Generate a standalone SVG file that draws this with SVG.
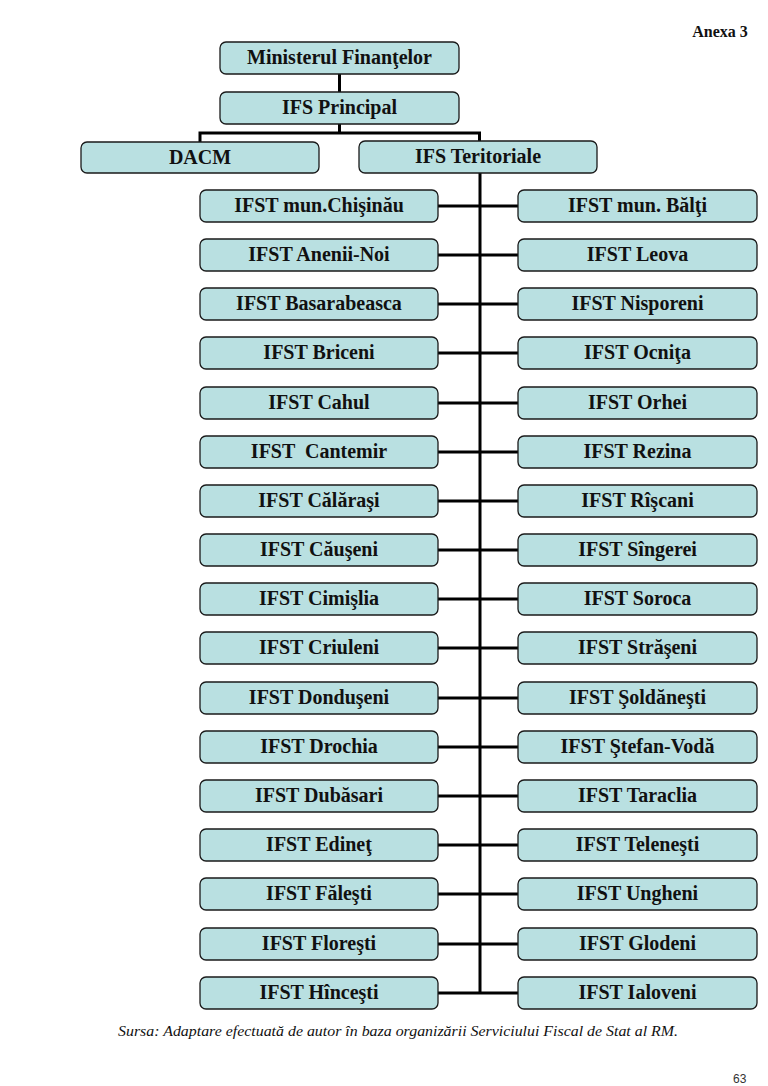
<svg xmlns="http://www.w3.org/2000/svg" width="768" height="1086" viewBox="0 0 768 1086">
<style>
.b{fill:#b9e0e1;stroke:#1a1a1a;stroke-width:1.3}
.t{font-family:"Liberation Serif","Times New Roman",serif;font-weight:bold;font-size:20px;fill:#111;text-anchor:middle;white-space:pre}
.c{stroke:#000;stroke-width:3;fill:none}
</style>
<rect width="768" height="1086" fill="#fff"/>
<text x="720" y="37" class="t" style="font-size:16px">Anexa 3</text>
<g id="connectors">
<path class="c" d="M339.5 74V92M339.5 124V133M200 133H479.5M200 131.5V142M479.5 131.5V141M480 173V993"/>
<path class="c" d="M438 206H518M438 255H518M438 304H518M438 353H518M438 403H518M438 452H518M438 501H518M438 550H518M438 599H518M438 648H518M438 698H518M438 747H518M438 796H518M438 845H518M438 894H518M438 944H518M438 993H518"/>
</g>
<g id="n_min"><rect class="b" x="220" y="42" width="239" height="32" rx="6"/><text class="t" x="339.5" y="64">Ministerul Finanţelor</text></g>
<g id="n_ifsp"><rect class="b" x="220" y="92" width="239" height="32" rx="6"/><text class="t" x="339.5" y="114">IFS Principal</text></g>
<g id="n_dacm"><rect class="b" x="81" y="142" width="238" height="31" rx="6"/><text class="t" x="200" y="164">DACM</text></g>
<g id="n_ifst"><rect class="b" x="359" y="141" width="238" height="32" rx="6"/><text class="t" x="478" y="163">IFS Teritoriale</text></g>
<g id="L1"><rect class="b" x="200" y="190" width="238" height="32" rx="6"/><text class="t" x="319" y="212">IFST mun.Chişinău</text></g>
<g id="L2"><rect class="b" x="200" y="239" width="238" height="32" rx="6"/><text class="t" x="319" y="261">IFST Anenii-Noi</text></g>
<g id="L3"><rect class="b" x="200" y="288" width="238" height="32" rx="6"/><text class="t" x="319" y="310">IFST Basarabeasca</text></g>
<g id="L4"><rect class="b" x="200" y="337" width="238" height="32" rx="6"/><text class="t" x="319" y="359">IFST Briceni</text></g>
<g id="L5"><rect class="b" x="200" y="387" width="238" height="32" rx="6"/><text class="t" x="319" y="409">IFST Cahul</text></g>
<g id="L6"><rect class="b" x="200" y="436" width="238" height="32" rx="6"/><text class="t" x="319" y="458">IFST  Cantemir</text></g>
<g id="L7"><rect class="b" x="200" y="485" width="238" height="32" rx="6"/><text class="t" x="319" y="507">IFST Călăraşi</text></g>
<g id="L8"><rect class="b" x="200" y="534" width="238" height="32" rx="6"/><text class="t" x="319" y="556">IFST Căuşeni</text></g>
<g id="L9"><rect class="b" x="200" y="583" width="238" height="32" rx="6"/><text class="t" x="319" y="605">IFST Cimişlia</text></g>
<g id="L10"><rect class="b" x="200" y="632" width="238" height="32" rx="6"/><text class="t" x="319" y="654">IFST Criuleni</text></g>
<g id="L11"><rect class="b" x="200" y="682" width="238" height="32" rx="6"/><text class="t" x="319" y="704">IFST Donduşeni</text></g>
<g id="L12"><rect class="b" x="200" y="731" width="238" height="32" rx="6"/><text class="t" x="319" y="753">IFST Drochia</text></g>
<g id="L13"><rect class="b" x="200" y="780" width="238" height="32" rx="6"/><text class="t" x="319" y="802">IFST Dubăsari</text></g>
<g id="L14"><rect class="b" x="200" y="829" width="238" height="32" rx="6"/><text class="t" x="319" y="851">IFST Edineţ</text></g>
<g id="L15"><rect class="b" x="200" y="878" width="238" height="32" rx="6"/><text class="t" x="319" y="900">IFST Făleşti</text></g>
<g id="L16"><rect class="b" x="200" y="928" width="238" height="32" rx="6"/><text class="t" x="319" y="950">IFST Floreşti</text></g>
<g id="L17"><rect class="b" x="200" y="977" width="238" height="32" rx="6"/><text class="t" x="319" y="999">IFST Hînceşti</text></g>
<g id="R1"><rect class="b" x="518" y="190" width="239" height="32" rx="6"/><text class="t" x="637.5" y="212">IFST mun. Bălţi</text></g>
<g id="R2"><rect class="b" x="518" y="239" width="239" height="32" rx="6"/><text class="t" x="637.5" y="261">IFST Leova</text></g>
<g id="R3"><rect class="b" x="518" y="288" width="239" height="32" rx="6"/><text class="t" x="637.5" y="310">IFST Nisporeni</text></g>
<g id="R4"><rect class="b" x="518" y="337" width="239" height="32" rx="6"/><text class="t" x="637.5" y="359">IFST Ocniţa</text></g>
<g id="R5"><rect class="b" x="518" y="387" width="239" height="32" rx="6"/><text class="t" x="637.5" y="409">IFST Orhei</text></g>
<g id="R6"><rect class="b" x="518" y="436" width="239" height="32" rx="6"/><text class="t" x="637.5" y="458">IFST Rezina</text></g>
<g id="R7"><rect class="b" x="518" y="485" width="239" height="32" rx="6"/><text class="t" x="637.5" y="507">IFST Rîşcani</text></g>
<g id="R8"><rect class="b" x="518" y="534" width="239" height="32" rx="6"/><text class="t" x="637.5" y="556">IFST Sîngerei</text></g>
<g id="R9"><rect class="b" x="518" y="583" width="239" height="32" rx="6"/><text class="t" x="637.5" y="605">IFST Soroca</text></g>
<g id="R10"><rect class="b" x="518" y="632" width="239" height="32" rx="6"/><text class="t" x="637.5" y="654">IFST Străşeni</text></g>
<g id="R11"><rect class="b" x="518" y="682" width="239" height="32" rx="6"/><text class="t" x="637.5" y="704">IFST Şoldăneşti</text></g>
<g id="R12"><rect class="b" x="518" y="731" width="239" height="32" rx="6"/><text class="t" x="637.5" y="753">IFST Ştefan-Vodă</text></g>
<g id="R13"><rect class="b" x="518" y="780" width="239" height="32" rx="6"/><text class="t" x="637.5" y="802">IFST Taraclia</text></g>
<g id="R14"><rect class="b" x="518" y="829" width="239" height="32" rx="6"/><text class="t" x="637.5" y="851">IFST Teleneşti</text></g>
<g id="R15"><rect class="b" x="518" y="878" width="239" height="32" rx="6"/><text class="t" x="637.5" y="900">IFST Ungheni</text></g>
<g id="R16"><rect class="b" x="518" y="928" width="239" height="32" rx="6"/><text class="t" x="637.5" y="950">IFST Glodeni</text></g>
<g id="R17"><rect class="b" x="518" y="977" width="239" height="32" rx="6"/><text class="t" x="637.5" y="999">IFST Ialoveni</text></g>
<text x="118" y="1036" textLength="560" lengthAdjust="spacingAndGlyphs" style="font-family:'Liberation Serif','Times New Roman',serif;font-style:italic;font-size:15.5px;fill:#111">Sursa: Adaptare efectuată de autor în baza organizării Serviciului Fiscal de Stat al RM.</text>
<text x="733" y="1083" style="font-family:'Liberation Sans',Arial,sans-serif;font-size:12px;fill:#333">63</text>
</svg>
